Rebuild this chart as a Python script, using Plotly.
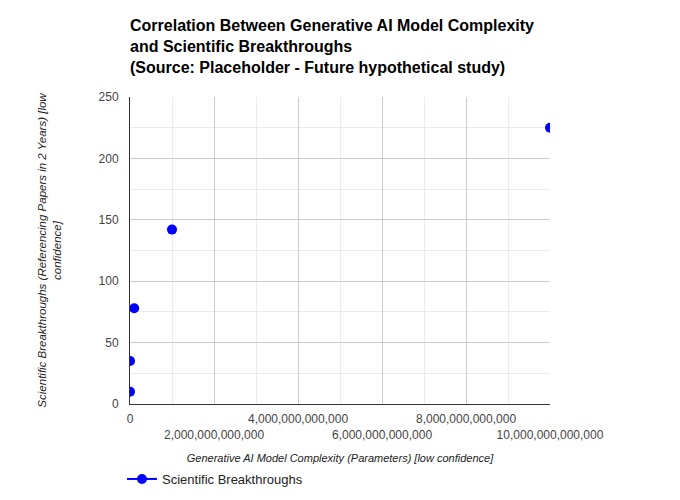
import plotly.graph_objects as go

# Data
params = [1e8, 1.5e9, 1e11, 1e12, 1e13]
breakthroughs = [10, 35, 78, 142, 225]
series_name = "Scientific Breakthroughs"

x_tickvals = [0, 2e12, 4e12, 6e12, 8e12, 1e13]
x_ticklabels = ["0", "2,000,000,000,000", "4,000,000,000,000",
                "6,000,000,000,000", "8,000,000,000,000", "10,000,000,000,000"]
y_tickvals = [0, 50, 100, 150, 200, 250]

title_text = ("Correlation Between Generative AI Model Complexity<br>"
              "and Scientific Breakthroughs<br>"
              "(Source: Placeholder - Future hypothetical study)")
x_title = "Generative AI Model Complexity (Parameters) [low confidence]"
y_title = "Scientific Breakthroughs (Referencing Papers in 2 Years) [low<br>confidence]"

FONT = "Liberation Sans, Arial, sans-serif"
BLUE = "#0000ff"

# alternate labels on two rows
ticktext = [t if i % 2 == 0 else " <br>" + t for i, t in enumerate(x_ticklabels)]

fig = go.Figure()
fig.add_trace(go.Scatter(
    x=params, y=breakthroughs, mode="markers", name=series_name,
    marker=dict(color=BLUE, size=10), showlegend=False,
))
# legend entry (line + dot), no data drawn
fig.add_trace(go.Scatter(
    x=[None], y=[None], mode="lines+markers", name=series_name,
    marker=dict(color=BLUE, size=10), line=dict(color=BLUE, width=2),
))

fig.update_layout(
    template="none",
    width=680, height=500,
    margin=dict(l=130, r=130, t=97, b=96, pad=0, autoexpand=False),
    paper_bgcolor="white", plot_bgcolor="white",
    font=dict(family=FONT, size=12, color="#444"),
    title=dict(text=title_text, x=130/680, xanchor="left", xref="container",
               y=1 - 31/500, yanchor="top", yref="container",
               font=dict(family=FONT, size=16, color="#000", weight="bold")),
    xaxis=dict(
        range=[0, 1e13], tickvals=x_tickvals, ticktext=ticktext, tickangle=0,
        showgrid=True, gridcolor="#cccccc", gridwidth=1,
        minor=dict(dtick=1e12, showgrid=True, gridcolor="#ebebeb", gridwidth=1),
        showline=True, linecolor="#333333", linewidth=1,
        zeroline=False, ticks="", automargin=False, ticklabelstandoff=4,
        tickfont=dict(family=FONT, size=12, color="#444"),
        title=dict(text=x_title, standoff=17,
                   font=dict(family=FONT, size=11, color="#222", style="italic")),
    ),
    yaxis=dict(
        range=[0, 250], tickvals=y_tickvals,
        showgrid=True, gridcolor="#cccccc", gridwidth=1,
        minor=dict(dtick=25, showgrid=True, gridcolor="#ebebeb", gridwidth=1),
        showline=True, linecolor="#333333", linewidth=1,
        zeroline=False, ticks="", automargin=False, ticklabelstandoff=8,
        tickfont=dict(family=FONT, size=12, color="#444"),
        title=dict(text=y_title, standoff=34,
                   font=dict(family=FONT, size=11.5, color="#222", style="italic")),
    ),
    legend=dict(orientation="h", xref="container", yref="container",
                x=122/680, xanchor="left", y=1 - 464/500, yanchor="top",
                font=dict(family=FONT, size=13, color="#222"),
                bgcolor="rgba(0,0,0,0)"),
    showlegend=True,
)

fig.write_html("out.html", config={"displayModeBar": False},
               post_script="document.body.style.margin='0';")
